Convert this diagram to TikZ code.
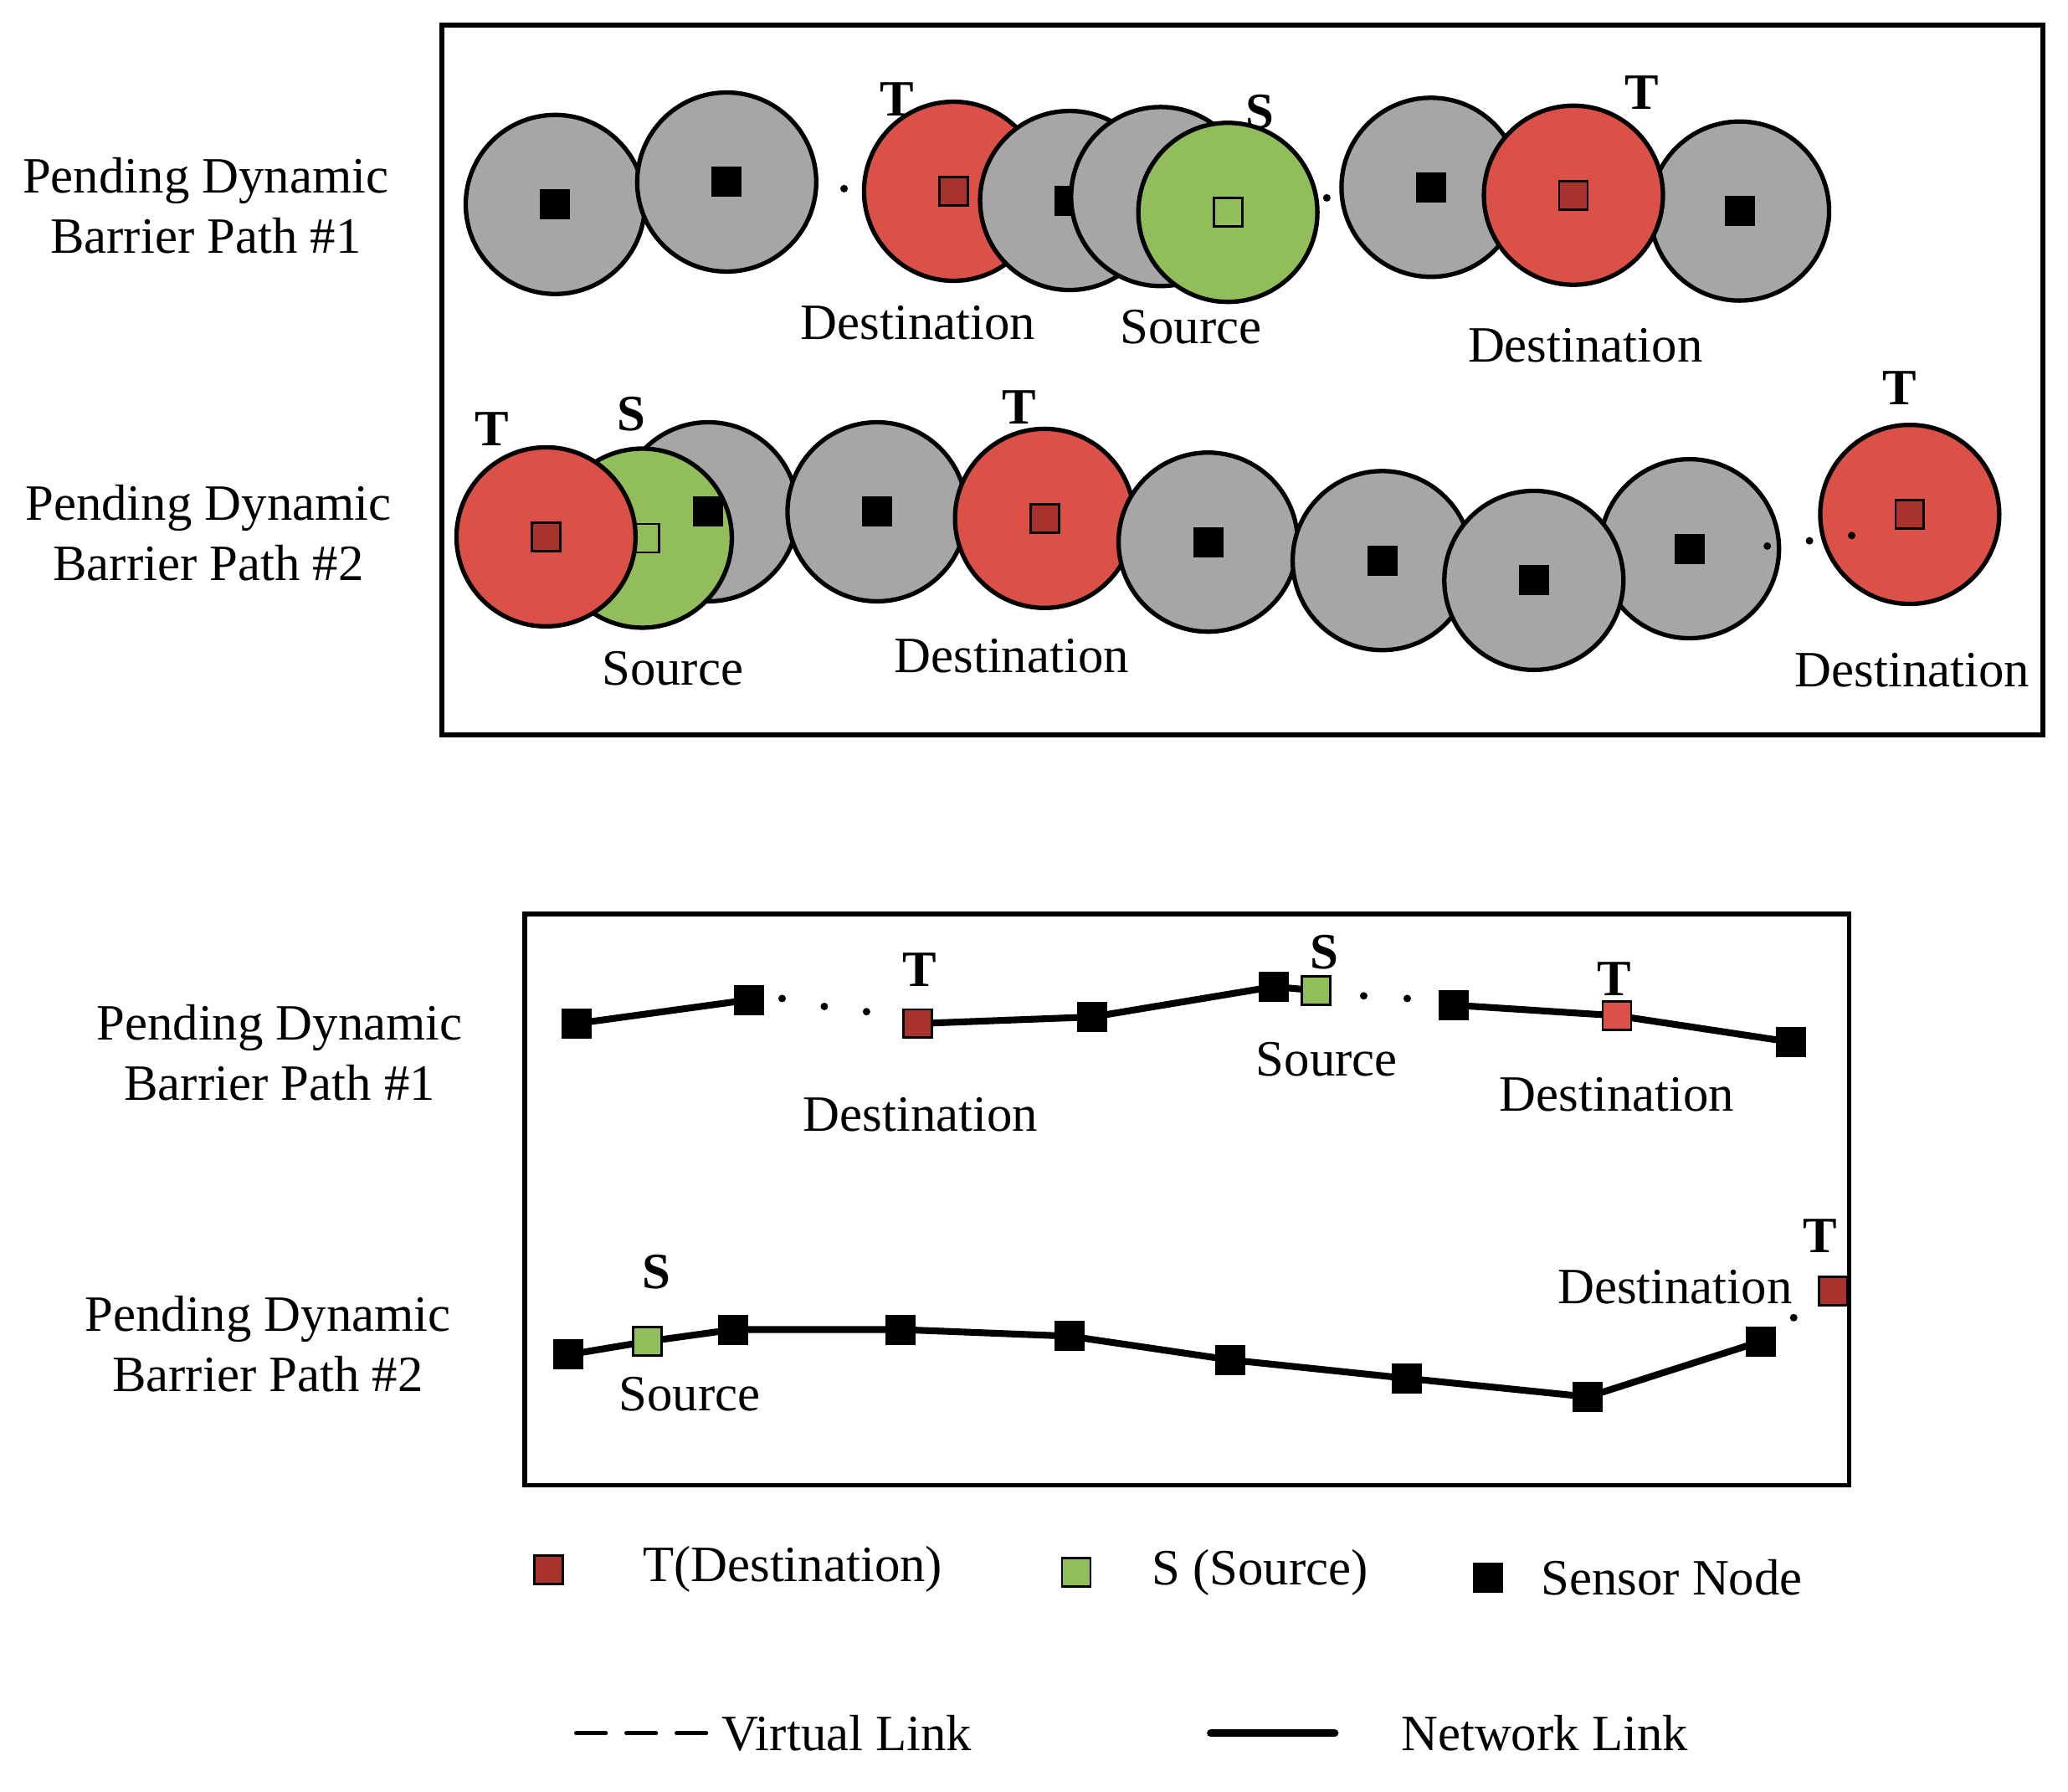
\documentclass[tikz,border=0pt]{standalone}
\usepackage{fontspec}
\setmainfont{Liberation Serif}
\usetikzlibrary{backgrounds}
\definecolor{cgray}{RGB}{166,166,166}
\definecolor{cred}{RGB}{219,80,71}
\definecolor{cdred}{RGB}{168,51,44}
\definecolor{cgreen}{RGB}{146,189,91}
\begin{document}
\begin{tikzpicture}[x=0.01576cm,y=-0.01576cm,
 every node/.style={font=\fontsize{17.3}{20.6}\selectfont},
 disc/.style={circle,draw=black,line width=1.5pt,minimum size=2.14cm,inner sep=0pt},
 gdisc/.style={disc,fill=cgray},
 rdisc/.style={disc,fill=cred},
 sdisc/.style={disc,fill=cgreen},
 sq/.style={rectangle,minimum size=0.36cm,inner sep=0pt,fill=black},
 tsq/.style={sq,fill=cdred,draw=black,line width=0.8pt,minimum size=0.34cm},
 tlsq/.style={sq,fill=cred,draw=black,line width=0.8pt,minimum size=0.34cm},
 ssq/.style={sq,fill=cgreen,draw=black,line width=0.8pt,minimum size=0.34cm},
 lbl/.style={inner sep=0pt},
 tag/.style={inner sep=0pt,font=\fontsize{17.3}{20.6}\selectfont\bfseries},
 side/.style={align=center,inner sep=0pt},
 frame/.style={draw=black,line width=1.6pt},
 net/.style={line width=2.3pt},
 vdot/.style={circle,fill=black,inner sep=0pt,minimum size=0.09cm}
]
\useasboundingbox (0,0) rectangle (1568,1358);

% ---------- top box ----------
\draw[frame] (335,19) rectangle (1549,557);
\node[side] (l1) at (156,156) {Pending Dynamic\\Barrier Path \#1};
\node[side] (l2) at (158,404) {Pending Dynamic\\Barrier Path \#2};

% row 1
\node[gdisc] (a1) at (421,155) {}; \node[sq] (as1) at (421,155) {};
\node[gdisc] (a2) at (551,138) {}; \node[sq] (as2) at (551,138) {};
\node[vdot] (ad1) at (640,143) {};
\node[rdisc] (a3) at (723,145) {}; \node[tsq] (as3) at (723,145) {};
\node[gdisc] (a4) at (811,152) {}; \node[sq] (as4) at (811,152) {};
\node[gdisc] (a5) at (880,149) {};
\node[sdisc] (a6) at (931,161) {}; \node[ssq] (as6) at (931,161) {};
\node[vdot] (ad2) at (1006,150) {};
\node[gdisc] (a7) at (1085,142) {}; \node[sq] (as7) at (1085,142) {};
\node[gdisc] (a9) at (1319,160) {}; \node[sq] (as9) at (1319,160) {};
\node[rdisc] (a8) at (1193,148) {}; \node[tsq] (as8) at (1193,148) {};
\node[tag] (at1) at (680,75) {T};
\node[tag] (at2) at (955,85) {S};
\node[tag] (at3) at (1245,70) {T};
\node[lbl] (al1) at (696,245) {Destination};
\node[lbl] (al2) at (903,248) {Source};
\node[lbl] (al3) at (1202,262) {Destination};

% row 2
\node[gdisc] (b3) at (537,388) {};
\node[sdisc] (b2) at (487,408) {}; \node[ssq] (bs2) at (489,408) {};
\node[sq] (bs3) at (537,388) {};
\node[rdisc] (b1) at (414,407) {}; \node[tsq] (bs1) at (414,407) {};
\node[gdisc] (b4) at (665,388) {}; \node[sq] (bs4) at (665,388) {};
\node[rdisc] (b5) at (792,393) {}; \node[tsq] (bs5) at (792,393) {};
\node[gdisc] (b6) at (916,411) {}; \node[sq] (bs6) at (916,411) {};
\node[gdisc] (b7) at (1048,425) {}; \node[sq] (bs7) at (1048,425) {};
\node[gdisc] (b9) at (1281,416) {}; \node[sq] (bs9) at (1281,416) {};
\node[gdisc] (b8) at (1163,440) {}; \node[sq] (bs8) at (1163,440) {};
\node[vdot] (bd1) at (1340,414) {};
\node[vdot] (bd2) at (1372,410) {};
\node[rdisc] (b10) at (1448,390) {}; \node[tsq] (bs10) at (1448,390) {};
\node[vdot] (bd3) at (1404,406) {};
\node[tag] (bt1) at (373,325) {T};
\node[tag] (bt2) at (479,314) {S};
\node[tag] (bt3) at (773,309) {T};
\node[tag] (bt4) at (1440,294) {T};
\node[lbl] (bl1) at (510,507) {Source};
\node[lbl] (bl2) at (767,497) {Destination};
\node[lbl] (bl3) at (1450,508) {Destination};

% ---------- bottom box ----------
\node[side] (l3) at (212,798) {Pending Dynamic\\Barrier Path \#1};
\node[side] (l4) at (203,1019) {Pending Dynamic\\Barrier Path \#2};

% path 1
\node[sq] (p1) at (437,776) {};
\node[sq] (p2) at (568,758) {};
\node[vdot] (pd1) at (593,757) {};
\node[vdot] (pd2) at (625,763) {};
\node[vdot] (pd3) at (657,767) {};
\node[tsq] (p3) at (696,776) {};
\node[sq] (p4) at (828,771) {};
\node[sq] (p5) at (966,748) {};
\node[ssq] (p6) at (998,751) {};
\node[vdot] (pd4) at (1034,755) {};
\node[vdot] (pd5) at (1067,757) {};
\node[sq] (p7) at (1102,762) {};
\node[tlsq] (p8) at (1226,770) {};
\node[sq] (p9) at (1358,790) {};
\node[tag] (pt1) at (697,735) {T};
\node[tag] (pt2) at (1004,722) {S};
\node[tag] (pt3) at (1224,742) {T};
\node[lbl] (pl1) at (698,845) {Destination};
\node[lbl] (pl2) at (1006,803) {Source};
\node[lbl] (pl3) at (1226,830) {Destination};

% path 2
\node[sq] (q1) at (431,1027) {};
\node[ssq] (q2) at (491,1017) {};
\node[sq] (q3) at (556,1008) {};
\node[sq] (q4) at (683,1008) {};
\node[sq] (q5) at (811,1013) {};
\node[sq] (q6) at (933,1031) {};
\node[sq] (q7) at (1067,1045) {};
\node[sq] (q8) at (1204,1059) {};
\node[sq] (q9) at (1335,1017) {};
\node[vdot] (qd1) at (1360,999) {};
\node[tsq] (q10) at (1390,979) {};
\node[tag] (qt1) at (498,964) {S};
\node[tag] (qt2) at (1380,937) {T};
\node[lbl] (ql1) at (523,1057) {Source};
\node[lbl] (ql2) at (1270,976) {Destination};

\draw[frame] (398,693) rectangle (1402,1126);

\begin{scope}[on background layer]
\draw[net] (p1.center) -- (p2.center);
\draw[net] (p3.center) -- (p4.center) -- (p5.center) -- (p6.center);
\draw[net] (p7.center) -- (p8.center) -- (p9.center);
\draw[net] (q1.center) -- (q2.center) -- (q3.center) -- (q4.center) -- (q5.center)
  -- (q6.center) -- (q7.center) -- (q8.center) -- (q9.center);
\end{scope}

% ---------- legend ----------
\node[tsq] (k1) at (416,1190) {};
\node[lbl,anchor=west] (kt1) at (487,1190) {T(Destination)};
\node[ssq] (k2) at (816,1192) {};
\node[lbl,anchor=west] (kt2) at (873,1192) {S (Source)};
\node[sq] (k3) at (1128,1196) {};
\node[lbl,anchor=west] (kt3) at (1168,1196) {Sensor Node};

\coordinate (v1) at (437,1314);
\coordinate (v2) at (536,1314);
\draw[line width=1.5pt,line cap=round,dash pattern=on 0.35cm off 0.25cm] (v1) -- (v2);
\node[lbl,anchor=west] (kt4) at (547,1314) {Virtual Link};
\coordinate (n1) at (918,1314);
\coordinate (n2) at (1012,1314);
\draw[line width=2.6pt,line cap=round] (n1) -- (n2);
\node[lbl,anchor=west] (kt5) at (1062,1314) {Network Link};
\end{tikzpicture}
\end{document}
